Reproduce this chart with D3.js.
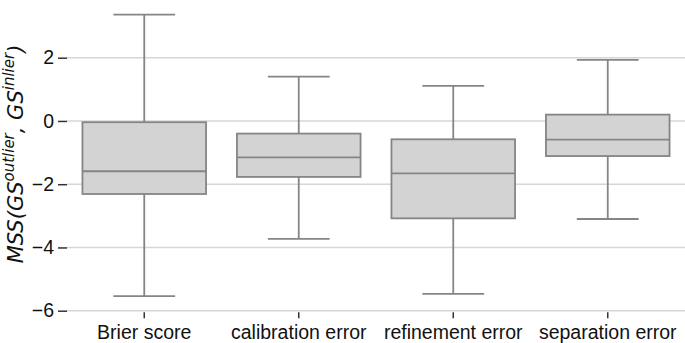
<!DOCTYPE html>
<html>
<head>
<meta charset="utf-8">
<script src="https://cdn.jsdelivr.net/npm/d3@7"></script>
<style>
  body { margin: 0; background: #fff; }
  svg { display: block; font-family: "Liberation Sans", Arial, sans-serif; }
</style>
</head>
<body>
<div id="chart"></div>
<script>
// Box plot summaries
const categories = ["Brier score", "calibration error", "refinement error", "separation error"];
const whiskerLow = [-5.54, -3.73, -5.47, -3.10];
const q1 = [-2.31, -1.77, -3.08, -1.11];
const median = [-1.59, -1.15, -1.66, -0.59];
const q3 = [-0.04, -0.40, -0.58, 0.20];
const whiskerHigh = [3.36, 1.40, 1.11, 1.93];
const yTicks = [-6, -4, -2, 0, 2];

const W = 685, H = 343;
const margin = { top: 0, right: 0, bottom: 32, left: 67 };

const svg = d3.select("#chart").append("svg")
    .attr("width", W)
    .attr("height", H);

const x = d3.scaleBand()
    .domain(categories)
    .range([margin.left, W - margin.right])
    .paddingInner(0)
    .paddingOuter(0);

const y = d3.scaleLinear()
    .domain([-6, 2])
    .range([310.7, 57.7]);

// grid lines
svg.append("g")
    .selectAll("line")
    .data(yTicks)
    .join("line")
    .attr("x1", margin.left)
    .attr("x2", W)
    .attr("y1", d => y(d))
    .attr("y2", d => y(d))
    .attr("stroke", "#d6d6d6")
    .attr("stroke-width", 1.5);

// y axis (ticks only, no spine)
const yAxis = svg.append("g")
    .attr("transform", `translate(${margin.left},0)`)
    .call(d3.axisLeft(y).tickValues(yTicks).tickSize(9).tickPadding(4)
        .tickFormat(d => d < 0 ? "\u2212" + Math.abs(d) : d));
yAxis.select(".domain").remove();
yAxis.selectAll("line").attr("stroke", "#333").attr("stroke-width", 1.5);
yAxis.selectAll("text").attr("font-size", "19.5px").attr("fill", "#111")
    .attr("font-family", "Liberation Sans, Arial, sans-serif");

// x axis
const xAxis = svg.append("g")
    .attr("transform", `translate(0,${y(-6) + 1.5})`)
    .call(d3.axisBottom(x).tickSize(6).tickPadding(7));
xAxis.select(".domain").remove();
xAxis.selectAll("line").attr("stroke", "#333").attr("stroke-width", 1.5);
xAxis.selectAll("text").attr("font-size", "19.5px").attr("fill", "#111")
    .attr("font-family", "Liberation Sans, Arial, sans-serif");

// boxes
const boxW = x.bandwidth() * 0.8;
const capW = boxW / 2;
const stroke = "#858585";

const data = categories.map((c, i) => ({
    cat: c, lo: whiskerLow[i], q1: q1[i], med: median[i], q3: q3[i], hi: whiskerHigh[i]
}));

const box = svg.append("g")
    .selectAll("g")
    .data(data)
    .join("g")
    .attr("transform", d => `translate(${x(d.cat) + x.bandwidth() / 2},0)`);

// whiskers
box.append("line")
    .attr("x1", 0).attr("x2", 0)
    .attr("y1", d => y(d.hi)).attr("y2", d => y(d.q3))
    .attr("stroke", stroke).attr("stroke-width", 1.8);
box.append("line")
    .attr("x1", 0).attr("x2", 0)
    .attr("y1", d => y(d.q1)).attr("y2", d => y(d.lo))
    .attr("stroke", stroke).attr("stroke-width", 1.8);
// caps
box.append("line")
    .attr("x1", -capW / 2).attr("x2", capW / 2)
    .attr("y1", d => y(d.hi)).attr("y2", d => y(d.hi))
    .attr("stroke", stroke).attr("stroke-width", 1.8);
box.append("line")
    .attr("x1", -capW / 2).attr("x2", capW / 2)
    .attr("y1", d => y(d.lo)).attr("y2", d => y(d.lo))
    .attr("stroke", stroke).attr("stroke-width", 1.8);

box.append("rect")
    .attr("x", -boxW / 2)
    .attr("width", boxW)
    .attr("y", d => y(d.q3))
    .attr("height", d => y(d.q1) - y(d.q3))
    .attr("fill", "#d3d3d3")
    .attr("stroke", stroke)
    .attr("stroke-width", 1.8);

box.append("line")
    .attr("x1", -boxW / 2).attr("x2", boxW / 2)
    .attr("y1", d => y(d.med)).attr("y2", d => y(d.med))
    .attr("stroke", stroke).attr("stroke-width", 1.8);

// y axis label (mathtext-like, DejaVu oblique)
const label = svg.append("text")
    .attr("transform", "translate(23,154) rotate(-90)")
    .attr("text-anchor", "middle")
    .attr("font-family", "DejaVu Sans, sans-serif")
    .attr("font-size", "21px")
    .attr("font-style", "italic")
    .attr("fill", "#111");
label.append("tspan").text("MSS(GS");
label.append("tspan").attr("font-size", "15px").attr("dy", "-9").text("outlier");
label.append("tspan").attr("dy", "9").text(", GS");
label.append("tspan").attr("font-size", "15px").attr("dy", "-9").text("inlier");
label.append("tspan").attr("dy", "9").text(")");
</script>
</body>
</html>
